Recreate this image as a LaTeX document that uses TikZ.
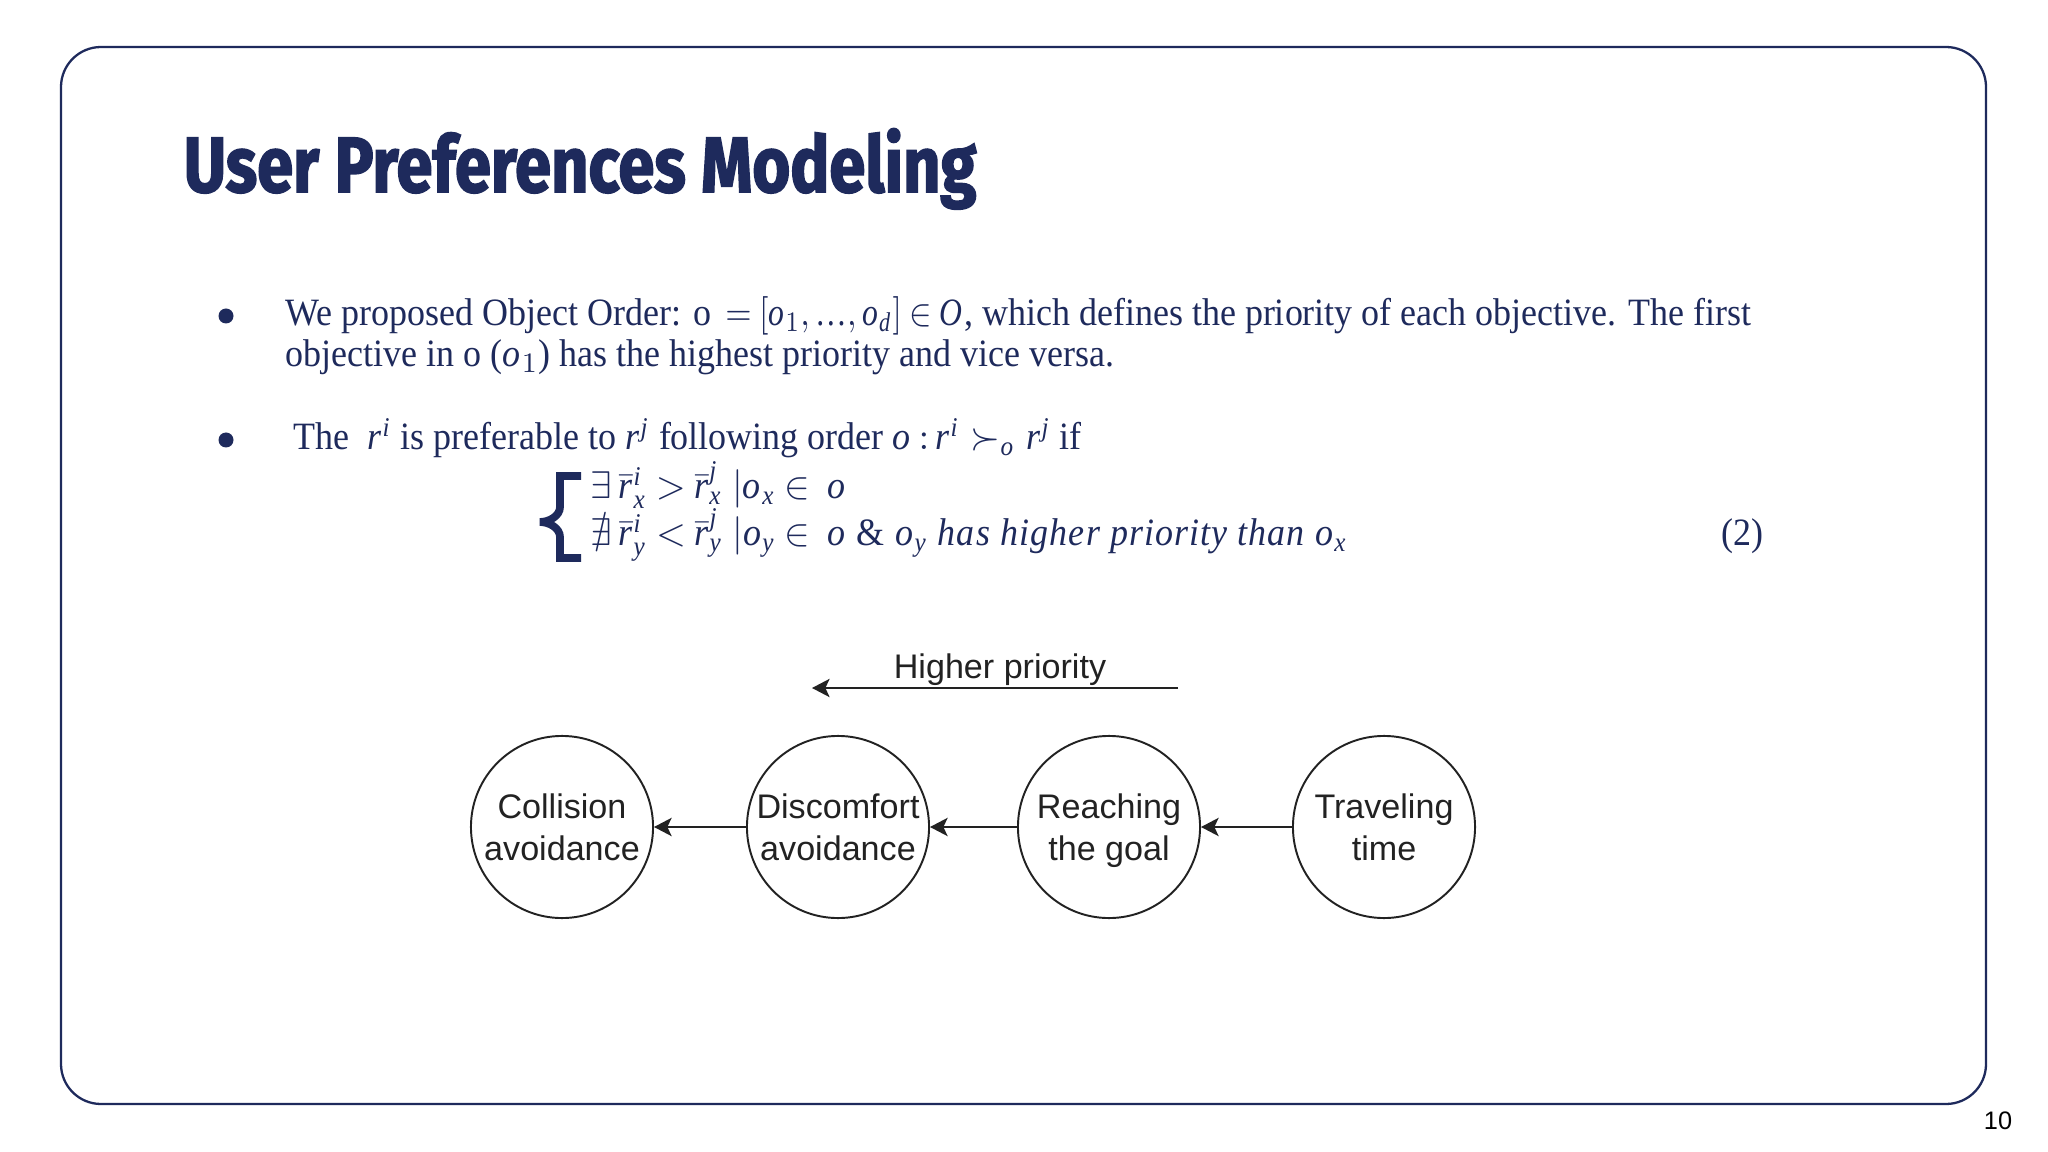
\documentclass[tikz,border=0pt]{standalone}
\usepackage{amsmath,amssymb}
\usepackage{fontspec}
\setmainfont[FakeStretch=0.93]{Liberation Serif}
\newfontfamily\bodyfont[FakeStretch=0.93]{Liberation Serif}
\newfontfamily\titlefont[FakeStretch=0.83,BoldFeatures={FakeBold=2}]{Fira Sans}
\newfontfamily\diagfont{Liberation Sans}
\usetikzlibrary{arrows.meta}
\definecolor{navy}{HTML}{1E2A5C}
\definecolor{ink}{HTML}{222222}
\newcommand{\mi}[1]{\mathit{#1}}
\tikzset{
  bodytext/.style={anchor=base west, inner sep=0pt, text=navy, font=\bodyfont\fontsize{11}{13.2}\selectfont},
  objnode/.style={circle, draw=ink, line width=0.55pt, minimum size=1.82cm, inner sep=0pt, align=center, text=ink, font=\diagfont\fontsize{9.7}{11.9}\selectfont},
  priarrow/.style={draw=ink, line width=0.55pt, -{Stealth[length=5pt,width=5.2pt,inset=1.2pt]}}
}
\begin{document}
\begin{tikzpicture}[x=0.01cm,y=-0.01cm]
\useasboundingbox (0,0) rectangle (2048,1152);
\fill[white] (0,0) rectangle (2048,1152);
% frame
\draw[navy, line width=0.65pt, rounded corners=0.4cm] (61,47) rectangle (1986,1104);
% title
\node[anchor=base west, inner sep=0pt, text=navy, font=\titlefont\bfseries\fontsize{22.3}{26}\selectfont] (title) at (183,192) {User Preferences Modeling};
% bullet 1
\fill[navy] (226,316) circle (7.5);
\node[bodytext] (b1a) at (285,326) {We proposed Object Order: o\,\scalebox{0.88}[1]{$\thickmuskip=4mu{}=[\mi{o}_1,\text{…},\mi{o}_{\mi{d}}]\in\mi{O}$}, which defines the priority of each objective. The first};
\node[bodytext] (b1b) at (285,367) {objective in o ($\mi{o}_1$) has the highest priority and vice versa.};
% bullet 2
\fill[navy] (226,440) circle (7.5);
\node[bodytext] (b2) at (293,450) {The\ \ $\mi{r}^{\mi{i}}$ is preferable to $\mi{r}^{\mi{j}}$ following order $\mi{o}\,{:}\,\mi{r}^{\mi{i}} \succ_{\mi{o}} \mi{r}^{\mi{j}}$ if};
% equation
\draw[navy, line width=2.2pt, line join=miter] (581,476) -- (560,476) -- (560,507)
  .. controls (560,516) and (549,522) .. (540,522)
  .. controls (549,522) and (560,528) .. (560,537) -- (560,558) -- (581,558);
\node[bodytext] (eq1) at (590,499)
  {$\thickmuskip=4mu\exists\,\bar{\mi{r}}_{\mi{x}}^{\mi{i}} > \bar{\mi{r}}_{\mi{x}}^{\mi{j}}\ |\mi{o}_{\mi{x}}\in\ \mi{o}$};
\node[bodytext] (eq2) at (590,546)
  {$\thickmuskip=4mu\nexists\,\bar{\mi{r}}_{\mi{y}}^{\mi{i}} < \bar{\mi{r}}_{\mi{y}}^{\mi{j}}\ |\mi{o}_{\mi{y}}\in\ \mi{o}\ \&\ \mi{o}_{\mi{y}}\ \mi{has\ higher\ priority\ than}\ \mi{o}_{\mi{x}}$};
\node[anchor=base east, inner sep=0pt, text=navy, font=\bodyfont\fontsize{11}{13.2}\selectfont] (eqno) at (1764,546) {(2)};
% diagram
\node[anchor=center, inner sep=0pt, text=ink, font=\diagfont\fontsize{9.7}{11.9}\selectfont] (hp) at (1000,670) {Higher priority};
\coordinate (hpstart) at (1178,688);
\coordinate (hpend) at (812,688);
\draw[priarrow] (hpstart) -- (hpend);
\node[objnode] (coll) at (562,827) {Collision\\avoidance};
\node[objnode] (disc) at (838,827) {Discomfort\\avoidance};
\node[objnode] (reach) at (1109,827) {Reaching\\\raisebox{0pt}[\height][0pt]{the goal}};
\node[objnode] (trav) at (1384,827) {Traveling\\time};
\draw[priarrow] (disc) -- (coll);
\draw[priarrow] (reach) -- (disc);
\draw[priarrow] (trav) -- (reach);
% page number
\node[anchor=center, inner sep=0pt, text=black, font=\diagfont\fontsize{7.2}{8}\selectfont] (pnum) at (1998,1121) {10};
\end{tikzpicture}
\end{document}
